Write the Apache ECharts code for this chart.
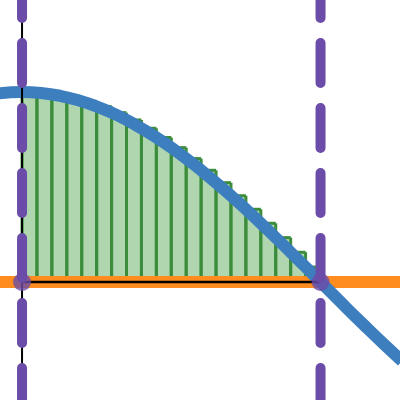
<!DOCTYPE html><html><head><script src="https://cdn.jsdelivr.net/npm/echarts@6/dist/echarts.min.js"></script></head><body style="margin:0"><div id="c" style="width:400px;height:400px"></div><script>
const curveX=[-0.12,0,0.1,0.2,0.3,0.4,0.5,0.6,0.7,0.8,0.9,1.0,1.1,1.2,1.3,1.4,1.5,1.6,1.7,1.8,1.9,2.0];
const curveY=[0.993,1,0.995,0.980,0.955,0.921,0.878,0.825,0.765,0.697,0.622,0.540,0.454,0.362,0.267,0.170,0.071,-0.029,-0.129,-0.227,-0.323,-0.416];
const barLeft=[0,0.0785,0.1571,0.2356,0.3142,0.3927,0.4712,0.5498,0.6283,0.7069,0.7854,0.8639,0.9425,1.0210,1.0996,1.1781,1.2566,1.3352,1.4137,1.4923];
const barHeight=[1,0.9969,0.9877,0.9724,0.9511,0.9239,0.8910,0.8526,0.8090,0.7604,0.7071,0.6494,0.5878,0.5225,0.4540,0.3827,0.3090,0.2334,0.1564,0.0785];
const barWidth=0.0785;
const a=0,b=1.5708;
const ch=echarts.init(document.getElementById('c'));
ch.setOption({animation:false,
grid:{left:0,right:0,top:0,bottom:0},
xAxis:{type:'value',min:-0.116,max:1.989,show:false},
yAxis:{type:'value',min:-0.621,max:1.484,show:false},
series:[
{type:'custom',z:1,data:barLeft.map((x,i)=>[x,barHeight[i]]),renderItem:(p,api)=>{
 const x=api.value(0),h=api.value(1);
 const p0=api.coord([x,0]),p1=api.coord([x+barWidth,h]);
 return {type:'group',children:[
  {type:'rect',shape:{x:p0[0],y:p1[1],width:p1[0]-p0[0],height:p0[1]-p1[1]},style:{fill:'rgba(110,180,110,0.55)'}},
  {type:'line',shape:{x1:p0[0],y1:p0[1],x2:p0[0],y2:p1[1]},style:{stroke:'#3b8c3b',lineWidth:3}},
  {type:'line',shape:{x1:p1[0],y1:p0[1],x2:p1[0],y2:p1[1]},style:{stroke:'#3b8c3b',lineWidth:3}},
  {type:'line',shape:{x1:p0[0],y1:p1[1],x2:p1[0],y2:p1[1]},style:{stroke:'#3b8c3b',lineWidth:3}}
 ]};}},
{type:'line',z:2,data:[[-0.2,0],[2.1,0]],symbol:'none',lineStyle:{color:'#ff8c1f',width:12}},
{type:'line',z:3,data:curveX.map((x,i)=>[x,curveY[i]]),smooth:true,symbol:'none',lineStyle:{color:'#3d7ebf',width:12}},
{type:'line',z:4,data:[[a,0],[b,0]],symbol:'none',lineStyle:{color:'#000',width:2.5}},
{type:'line',z:4,data:[[a,-1],[a,2]],symbol:'none',lineStyle:{color:'#000',width:2}},
{type:'line',z:5,data:[[a,1.6],[a,-0.7]],symbol:'none',lineStyle:{color:'#6b4ca8',width:10,type:[40,25],cap:'round'}},
{type:'line',z:5,data:[[b,1.6],[b,-0.7]],symbol:'none',lineStyle:{color:'#6b4ca8',width:10,type:[40,25],cap:'round'}},
{type:'scatter',z:6,data:[[a,0],[b,0]],symbolSize:18,itemStyle:{color:'#6b4ca8'}}
]});
</script></body></html>
